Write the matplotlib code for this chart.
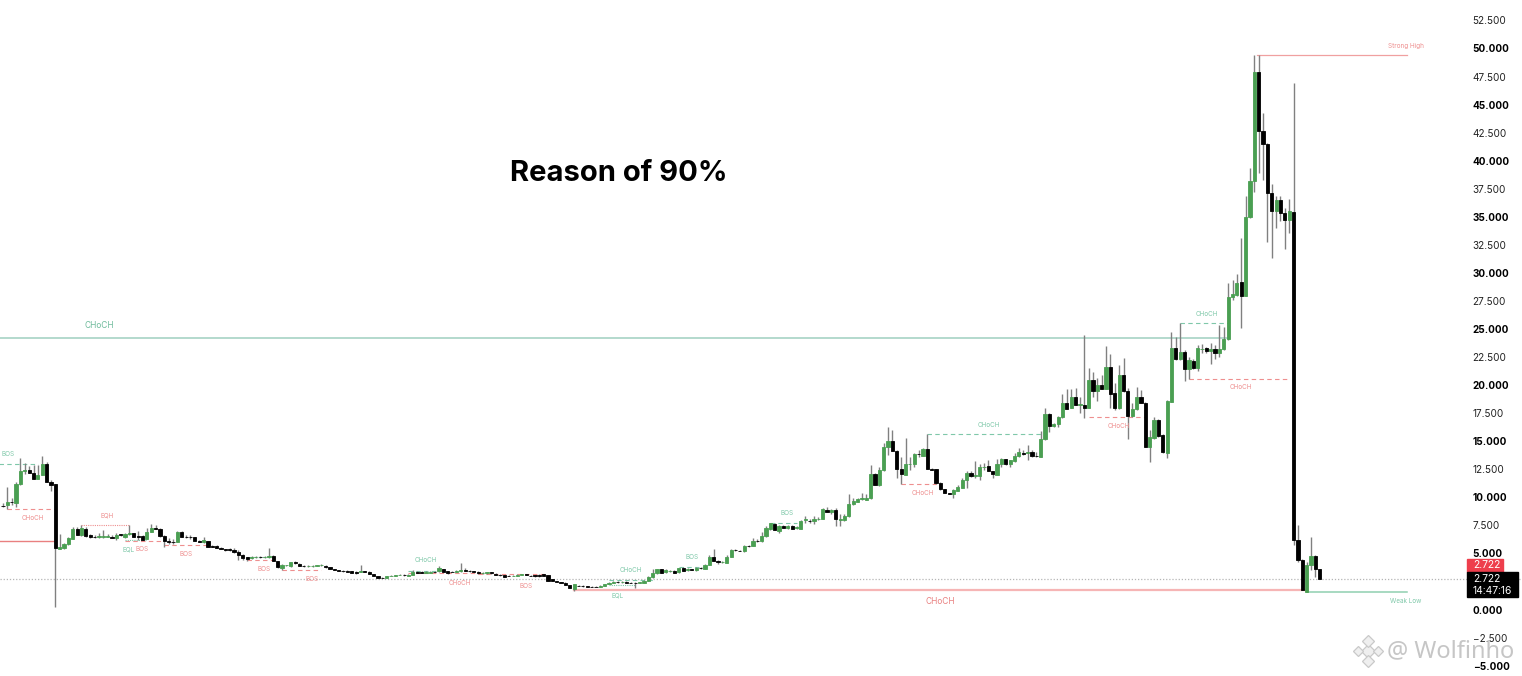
import matplotlib
matplotlib.use("Agg")
import matplotlib.pyplot as plt
from matplotlib.patches import Rectangle

plt.rcParams["font.family"] = ["Inter", "DejaVu Sans"]

# =======================================
# data (price in thousands)
# =======================================
opens = [
    9.25, 9.3, 9.6, 9.5, 11.2, 12.35, 12.4, 12.2, 11.6, 12.0,
    12.95, 11.4, 11.15, 5.4, 5.5, 5.8, 6.3, 7.2, 6.6, 7.2,
    6.6, 6.5, 6.5, 6.5, 6.5, 6.5, 6.35, 6.7, 6.5, 6.75,
    6.85, 6.55, 6.55, 6.25, 6.95, 7.3, 7.2, 6.55, 6.1, 6.05,
    6.05, 6.9, 6.5, 6.5, 6.5, 6.1, 6.0, 6.1, 5.65, 5.7,
    5.5, 5.35, 5.35, 5.3, 5.15, 4.9, 4.65, 4.55, 4.65, 4.7,
    4.65, 4.65, 4.8, 4.35, 3.7, 3.95, 3.85, 4.2, 4.05, 3.9,
    3.85, 3.85, 3.85, 3.95, 3.9, 3.75, 3.6, 3.5, 3.45, 3.4,
    3.42, 3.3, 3.32, 3.4, 3.35, 3.18, 2.97, 2.85, 2.85, 2.97,
    3.02, 3.07, 3.1, 3.0, 3.06, 3.33, 3.3, 3.28, 3.28, 3.38,
    3.39, 3.6, 3.4, 3.35, 3.36, 3.42, 3.55, 3.42, 3.42, 3.36,
    3.22, 3.24, 3.33, 3.2, 3.09, 3.06, 3.0, 2.98, 3.02, 3.1,
    3.15, 3.02, 3.06, 3.09, 3.12, 3.06, 2.68, 2.53, 2.44, 2.38,
    2.2, 1.85, 2.13, 2.08, 2.05, 2.03, 2.02, 2.02, 2.12, 2.28,
    2.38, 2.47, 2.44, 2.46, 2.4, 2.36, 2.34, 2.38, 2.56, 2.86,
    3.27, 3.57, 3.3, 3.4, 3.42, 3.3, 3.67, 3.49, 3.58, 3.49,
    3.7, 3.64, 3.97, 4.68, 4.36, 4.22, 4.18, 4.71, 5.3, 5.25,
    5.19, 5.66, 5.66, 6.12, 6.08, 6.55, 7.15, 7.62, 7.03, 7.42,
    7.28, 7.47, 7.3, 7.18, 8.0, 7.92, 7.88, 8.08, 8.1, 8.9,
    8.7, 8.87, 8.02, 7.95, 8.37, 9.37, 9.58, 9.87, 9.8, 9.94,
    12.08, 11.07, 12.43, 14.45, 15.02, 14.16, 12.5, 11.99, 12.94, 12.97,
    13.88, 13.7, 14.3, 12.55, 12.5, 11.3, 10.7, 10.35, 10.27, 10.6,
    10.86, 11.57, 12.2, 11.93, 11.93, 12.7, 12.8, 12.3, 12.02, 12.97,
    13.38, 12.97, 13.2, 13.68, 13.92, 13.95, 14.07, 13.68, 13.62, 15.17,
    17.39, 16.35, 16.5, 17.13, 18.37, 17.99, 18.94, 18.25, 18.22, 17.99,
    20.45, 19.44, 19.98, 19.68, 21.64, 19.29, 17.93, 20.93, 19.5, 17.24,
    17.84, 18.97, 18.43, 14.51, 15.28, 16.89, 15.55, 13.98, 18.52, 23.33,
    22.32, 22.92, 21.46, 22.17, 21.49, 23.22, 23.3, 23.06, 23.2, 22.83,
    23.18, 24.08, 27.82, 28.0, 29.16, 27.97, 34.96, 38.2, 47.88, 42.65,
    41.46, 37.1, 35.49, 36.47, 35.37, 34.69, 35.45, 6.19, 4.41, 1.59,
    3.97, 4.77, 3.61,
]
highs = [
    9.5, 10.9, 9.9, 11.35, 13.5, 13.05, 12.75, 12.85, 12.85, 13.65,
    13.15, 11.5, 11.15, 6.75, 5.95, 6.5, 7.35, 7.35, 7.55, 7.35,
    6.7, 6.65, 6.85, 7.1, 6.7, 6.6, 6.8, 6.75, 6.8, 7.55,
    6.85, 7.0, 6.6, 7.25, 7.65, 7.55, 7.25, 6.6, 6.35, 6.25,
    7.0, 7.0, 6.65, 6.65, 6.5, 6.15, 6.5, 6.1, 5.75, 5.75,
    5.55, 5.4, 5.45, 5.45, 5.3, 4.95, 4.7, 4.75, 4.75, 4.8,
    4.8, 5.45, 4.85, 4.35, 4.05, 4.0, 4.2, 4.3, 4.1, 3.95,
    4.0, 3.95, 4.0, 4.05, 3.95, 3.75, 3.65, 3.55, 3.5, 3.5,
    3.45, 3.4, 3.95, 3.45, 3.4, 3.2, 3.0, 2.92, 3.0, 3.05,
    3.1, 3.15, 3.12, 3.15, 3.5, 3.45, 3.4, 3.42, 3.4, 3.45,
    3.85, 3.62, 3.42, 3.45, 3.5, 4.15, 3.7, 3.5, 3.45, 3.4,
    3.3, 3.35, 3.35, 3.22, 3.12, 3.08, 3.05, 3.05, 3.12, 3.17,
    3.18, 3.05, 3.1, 3.12, 3.18, 3.08, 2.7, 2.55, 2.46, 2.42,
    2.2, 2.3, 2.18, 2.15, 2.1, 2.08, 2.08, 2.15, 2.3, 2.42,
    2.5, 2.52, 2.52, 2.5, 2.45, 2.42, 2.48, 2.62, 3.0, 3.63,
    3.65, 3.62, 3.6, 3.55, 3.5, 3.7, 3.75, 3.7, 3.62, 3.8,
    3.8, 4.05, 4.85, 5.37, 4.4, 4.3, 4.87, 5.4, 5.35, 5.3,
    5.75, 5.75, 6.4, 6.25, 6.95, 7.4, 7.75, 7.68, 7.5, 7.5,
    7.5, 7.55, 7.4, 8.0, 8.33, 8.1, 8.33, 8.2, 9.08, 9.17,
    9.0, 9.08, 8.5, 8.5, 10.3, 9.97, 9.95, 10.35, 10.3, 12.88,
    12.14, 12.73, 14.8, 16.3, 16.0, 14.2, 13.62, 15.26, 13.62, 13.98,
    14.2, 14.37, 15.6, 12.6, 12.55, 11.35, 10.75, 10.4, 10.7, 11.1,
    11.7, 12.35, 12.35, 13.25, 12.95, 13.03, 13.33, 12.35, 13.38, 13.47,
    13.45, 13.35, 13.92, 14.37, 14.22, 14.66, 14.22, 14.07, 15.9, 18.0,
    17.48, 16.6, 17.25, 19.18, 19.62, 19.62, 19.71, 18.97, 24.46, 21.5,
    21.2, 20.6, 20.9, 23.51, 22.74, 20.15, 21.79, 22.38, 19.7, 18.37,
    19.8, 19.56, 18.5, 15.99, 17.12, 16.95, 15.6, 18.67, 24.7, 24.3,
    25.5, 23.12, 22.53, 22.3, 23.57, 23.66, 23.42, 23.72, 23.57, 25.35,
    25.15, 29.1, 29.37, 29.9, 33.11, 36.88, 39.38, 49.4, 49.4, 44.28,
    41.6, 37.9, 36.88, 36.88, 35.8, 36.56, 46.95, 7.53, 4.5, 4.26,
    6.43, 4.85, 3.65,
]
lows = [
    9.1, 9.0, 9.3, 9.1, 11.1, 12.1, 12.15, 11.6, 11.6, 11.95,
    11.4, 10.6, 0.2, 5.4, 5.4, 5.75, 6.25, 6.6, 6.55, 6.5,
    6.4, 6.4, 6.35, 6.35, 6.45, 6.4, 6.2, 6.55, 6.4, 6.6,
    6.5, 6.2, 6.2, 6.25, 6.9, 7.2, 6.5, 5.6, 5.85, 5.85,
    6.05, 6.45, 6.35, 6.3, 6.1, 6.0, 5.95, 5.6, 5.55, 5.45,
    5.35, 5.25, 5.2, 5.05, 4.45, 4.45, 4.35, 4.5, 4.6, 4.6,
    4.6, 4.6, 4.3, 3.7, 3.55, 3.85, 3.8, 4.05, 3.85, 3.8,
    3.8, 3.8, 3.85, 3.9, 3.7, 3.6, 3.5, 3.4, 3.35, 3.3,
    3.25, 3.2, 3.3, 3.3, 3.2, 3.0, 2.85, 2.8, 2.82, 2.95,
    3.0, 3.05, 3.02, 2.98, 3.04, 3.25, 3.25, 3.25, 3.25, 3.3,
    3.37, 3.3, 3.2, 3.3, 3.34, 3.38, 3.4, 3.35, 3.35, 3.2,
    3.2, 3.2, 3.2, 3.08, 3.0, 2.88, 2.95, 2.95, 3.0, 3.08,
    3.1, 2.97, 2.94, 2.93, 3.0, 2.5, 2.5, 2.42, 2.36, 2.2,
    1.9, 1.65, 2.05, 2.03, 2.0, 1.98, 1.98, 2.0, 2.1, 2.25,
    2.35, 2.38, 2.38, 2.38, 2.32, 1.95, 2.32, 2.36, 2.54, 2.84,
    3.2, 3.25, 3.25, 3.3, 3.26, 3.28, 3.4, 3.45, 3.48, 3.47,
    3.62, 3.62, 3.95, 4.36, 4.05, 4.15, 4.16, 4.65, 5.2, 5.18,
    5.15, 5.6, 5.62, 6.05, 6.05, 6.5, 7.1, 7.05, 6.85, 7.25,
    7.2, 7.15, 7.15, 7.15, 7.75, 7.75, 7.62, 7.95, 8.08, 8.7,
    8.5, 7.48, 7.4, 7.92, 8.28, 9.3, 9.55, 9.8, 9.78, 9.88,
    11.07, 11.0, 12.35, 13.77, 14.1, 11.7, 11.19, 11.95, 12.43, 12.73,
    13.6, 13.65, 12.55, 12.43, 11.2, 10.65, 10.35, 10.25, 9.9, 10.55,
    10.8, 10.8, 11.85, 11.75, 11.5, 12.43, 12.3, 11.7, 11.98, 12.73,
    12.9, 12.73, 13.18, 13.62, 13.77, 13.32, 13.62, 13.62, 13.6, 15.1,
    15.85, 16.3, 16.3, 17.1, 17.84, 17.93, 18.2, 17.48, 17.04, 17.93,
    18.97, 18.58, 19.62, 19.62, 18.0, 17.78, 17.84, 19.42, 15.2, 17.18,
    17.78, 18.37, 14.51, 13.18, 15.22, 15.4, 13.92, 13.47, 18.46, 22.23,
    22.23, 20.36, 20.5, 21.46, 21.28, 22.83, 22.83, 21.85, 22.29, 22.53,
    23.13, 24.0, 27.6, 27.9, 25.1, 27.9, 34.85, 37.24, 38.88, 38.28,
    32.73, 31.35, 34.03, 34.62, 32.13, 33.53, 5.75, 4.2, 1.71, 1.55,
    3.52, 2.92, 2.72,
]
closes = [
    9.2, 9.55, 9.55, 11.2, 12.35, 12.4, 12.15, 11.6, 12.0, 12.95,
    11.4, 11.1, 5.45, 5.6, 5.8, 6.35, 7.2, 6.6, 7.25, 6.55,
    6.45, 6.45, 6.55, 6.55, 6.55, 6.4, 6.65, 6.6, 6.75, 6.85,
    6.5, 6.45, 6.2, 6.95, 7.3, 7.2, 6.55, 6.1, 6.05, 6.0,
    6.9, 6.45, 6.45, 6.45, 6.1, 6.0, 6.2, 5.6, 5.6, 5.5,
    5.35, 5.3, 5.3, 5.1, 4.85, 4.55, 4.5, 4.65, 4.7, 4.65,
    4.7, 4.8, 4.35, 3.75, 3.95, 3.95, 4.2, 4.1, 3.9, 3.85,
    3.85, 3.85, 3.95, 4.0, 3.75, 3.6, 3.5, 3.45, 3.4, 3.35,
    3.27, 3.28, 3.42, 3.38, 3.2, 3.0, 2.85, 2.83, 2.97, 3.02,
    3.07, 3.1, 3.05, 3.1, 3.33, 3.28, 3.28, 3.33, 3.38, 3.36,
    3.69, 3.3, 3.22, 3.33, 3.42, 3.48, 3.42, 3.4, 3.36, 3.21,
    3.24, 3.32, 3.21, 3.09, 3.05, 2.89, 2.98, 3.02, 3.1, 3.13,
    3.1, 3.0, 2.95, 2.95, 3.0, 2.5, 2.53, 2.44, 2.38, 2.22,
    1.91, 2.23, 2.1, 2.06, 2.03, 2.02, 2.0, 2.12, 2.28, 2.38,
    2.47, 2.44, 2.46, 2.4, 2.36, 2.32, 2.44, 2.56, 2.88, 3.27,
    3.6, 3.27, 3.54, 3.42, 3.27, 3.69, 3.44, 3.64, 3.49, 3.73,
    3.68, 3.97, 4.71, 4.36, 4.2, 4.24, 4.71, 5.3, 5.27, 5.22,
    5.66, 5.62, 6.14, 6.1, 6.55, 7.24, 7.68, 7.09, 7.44, 7.28,
    7.45, 7.18, 7.33, 7.92, 8.03, 7.88, 8.07, 8.1, 8.93, 8.7,
    8.87, 8.04, 8.05, 8.37, 9.37, 9.67, 9.85, 9.9, 9.94, 12.08,
    11.07, 12.43, 14.51, 15.02, 14.16, 12.5, 12.05, 12.94, 13.0, 13.83,
    13.85, 14.3, 12.55, 12.47, 11.3, 10.7, 10.38, 10.27, 10.65, 10.95,
    11.57, 12.2, 11.9, 11.95, 12.7, 12.73, 12.3, 12.05, 12.97, 13.38,
    12.97, 13.3, 13.68, 14.07, 13.9, 14.0, 13.68, 13.65, 15.23, 17.39,
    16.38, 16.53, 17.13, 18.37, 17.9, 18.97, 18.2, 18.28, 17.99, 20.48,
    19.44, 19.98, 19.68, 21.64, 19.23, 17.99, 20.93, 19.47, 17.24, 17.9,
    18.97, 18.43, 14.51, 15.34, 16.89, 15.46, 14.01, 18.58, 23.33, 22.32,
    22.95, 21.46, 22.23, 21.49, 23.27, 23.25, 23.04, 23.2, 22.86, 23.24,
    24.08, 27.88, 28.12, 29.07, 27.94, 35.0, 38.2, 47.9, 42.65, 41.46,
    37.15, 35.5, 36.5, 35.37, 34.69, 35.49, 6.19, 4.41, 1.71, 3.97,
    4.77, 3.61, 2.72,
]

last_price = 2.722
countdown = "14:47:16"

tick_values = [-5, -2.5, 0, 5, 7.5, 10, 12.5, 15, 17.5, 20, 22.5, 25, 27.5, 30,
               32.5, 35, 37.5, 40, 42.5, 45, 47.5, 50, 52.5]
tick_labels = ["−5.000", "−2.500", "0.000", "5.000", "7.500", "10.000", "12.500",
               "15.000", "17.500", "20.000", "22.500", "25.000", "27.500", "30.000",
               "32.500", "35.000", "37.500", "40.000", "42.500", "45.000", "47.500",
               "50.000", "52.500"]
bold_ticks = [-5, 0, 5, 10, 15, 20, 25, 30, 35, 40, 45, 50]

# structure levels: start candle, end candle, price, line style
green_levels = [
    (-1, 8, 12.93, "--"), (28, 33, 6.2, ":"), (56, 62, 4.7, ":"), (93, 100, 3.43, "--"),
    (139, 149, 2.63, "--"), (139, 145, 2.2, ":"), (155, 161, 3.8, "--"), (176, 182, 7.75, "--"),
    (212, 238, 15.6, "--"), (270, 281, 25.5, "--"),
]
red_levels = [
    (1, 12, 9.0, "--"), (18, 29, 7.53, ":"), (28, 37, 6.1, "--"), (37, 47, 5.75, "--"),
    (56, 62, 4.4, "--"), (64, 73, 3.49, "--"), (93, 110, 3.22, "--"), (109, 124, 3.15, "--"),
    (206, 214, 11.19, "--"), (249, 262, 17.2, "--"), (272, 295, 20.55, "--"),
]
green_tags = [
    ("BOS", 1.1, 13.86), ("EQL", 28.7, 5.39), ("CHoCH", 97, 4.41), ("CHoCH", 144, 3.52),
    ("EQL", 141, 1.29), ("BOS", 158, 4.68), ("BOS", 179.8, 8.6), ("CHoCH", 226, 16.44),
    ("CHoCH", 276, 26.34), ("Weak Low", 321.8, 0.76),
]
red_tags = [
    ("CHoCH", 6.9, 8.15), ("EQH", 23.9, 8.42), ("BOS", 31.9, 5.39), ("BOS", 42, 4.95),
    ("BOS", 59.9, 3.61), ("BOS", 70.9, 2.72), ("CHoCH", 104.8, 2.36), ("BOS", 120, 2.09),
    ("CHoCH", 211, 10.38), ("CHoCH", 256, 16.35), ("CHoCH", 284, 19.83), ("Strong High", 321.8, 50.2),
]

# =======================================
# figure
# =======================================
W, H = 1522, 676
fig = plt.figure(figsize=(W / 100, H / 100), dpi=100)
ax = fig.add_axes([0, 0, 1, 1])
ax.set_xlim(-3 / 4.36, (W - 3) / 4.36)
ax.set_ylim((609.5 - H) / 11.22, 609.5 / 11.22)
for s in ax.spines.values():
    s.set_visible(False)
ax.set_xticks([])

GREEN = "#4a9f52"
TEAL = "#7fc8a9"
RED = "#ee8f8f"
WICK = "#808080"

# =======================================
# candles
# =======================================
idx = list(range(len(opens)))
body_low = [min(o, c) for o, c in zip(opens, closes)]
body_h = [abs(o - c) for o, c in zip(opens, closes)]
colors = [GREEN if c >= o else "black" for o, c in zip(opens, closes)]

ax.vlines(idx, lows, highs, color=WICK, lw=1.0, zorder=3)
ax.bar(idx, body_h, bottom=body_low, width=0.74, color=colors, edgecolor=colors, lw=0.6, zorder=4)

# =======================================
# levels
# =======================================
ax.axhline(last_price, color="#b5b5b5", lw=0.9, ls=(0, (1, 1.5)), zorder=1)
ax.plot([-1, 281], [24.2, 24.2], color="#9fcfc0", lw=1.1, zorder=2)
ax.plot([-1, 12], [6.1, 6.1], color="#e98080", lw=1.0, zorder=2)
ax.plot([287.5, 322], [49.4, 49.4], color="#f0a0a0", lw=0.9, zorder=2)
ax.plot([131, 299], [1.73, 1.73], color="#f6b5b5", lw=1.6, zorder=2)
ax.plot([299, 322], [1.55, 1.55], color="#8fd0b0", lw=1.1, zorder=2)

for x0, x1, y, ls in green_levels:
    ax.plot([x0, x1], [y, y], color=TEAL, lw=0.8, ls=(0, (4, 3)) if ls == "--" else (0, (1, 1)), zorder=2)
for x0, x1, y, ls in red_levels:
    ax.plot([x0, x1], [y, y], color=RED, lw=0.8, ls=(0, (4, 3)) if ls == "--" else (0, (1, 1)), zorder=2)

for label, x, y in green_tags:
    ax.text(x, y, label, color=TEAL, fontsize=4.6, ha="center", va="center")
for label, x, y in red_tags:
    ax.text(x, y, label, color=RED, fontsize=4.6, ha="center", va="center")
ax.text(22, 25.27, "CHoCH", color="#6fbb9c", fontsize=6, ha="center", va="center")
ax.text(215, 0.67, "CHoCH", color="#e98080", fontsize=6, ha="center", va="center")

ax.text(0.4064, 0.743, "Reason of 90%", transform=ax.transAxes, fontsize=21,
        fontweight="bold", color="black", ha="center", va="center")

# =======================================
# price axis (labels sit inside the frame)
# =======================================
ax.yaxis.tick_right()
ax.set_yticks(tick_values)
ax.set_yticklabels(tick_labels)
ax.tick_params(axis="y", length=0, pad=-35.5, labelsize=7.2, labelcolor="#222222")
for v, lab in zip(tick_values, ax.get_yticklabels()):
    if v in bold_ticks:
        lab.set_fontweight("bold")
        lab.set_color("black")

# price boxes
price_tf = ax.get_yaxis_transform()
ax.add_patch(Rectangle((1467 / W, 3.36), 36 / W, 1.16, transform=price_tf, color="#ee3e4c", zorder=6))
ax.add_patch(Rectangle((1467 / W, 1.12), 51 / W, 2.24, transform=price_tf, color="black", zorder=6))
ax.text(1473 / W, 3.94, f"{last_price:.3f}", transform=price_tf, color="white", fontsize=7.4, va="center", zorder=7)
ax.text(1473 / W, 2.72, f"{last_price:.3f}", transform=price_tf, color="white", fontsize=7.4, va="center", zorder=7)
ax.text(1473 / W, 1.65, countdown, transform=price_tf, color="white", fontsize=7.4, va="center", zorder=7)

# =======================================
# watermark
# =======================================
logo_x = [1368, 1358, 1378, 1368, 1368]
logo_y = [651, 651, 651, 641, 661]
logo_s = [7, 5, 5, 6, 6]
for lx, ly, ms in zip(logo_x, logo_y, logo_s):
    ax.plot(lx / W, 1 - ly / H, marker="D", ms=ms, mfc="#efefef", mec="#c9c9c9", mew=0.9,
            transform=ax.transAxes, zorder=8, clip_on=False)
ax.text(1387 / W, 1 - 651 / H, "@ Wolfinho", transform=ax.transAxes, fontsize=17, color="#c6c6c6",
        family="Noto Sans", va="center", ha="left", zorder=8)

fig.savefig("out.png", dpi=100)
